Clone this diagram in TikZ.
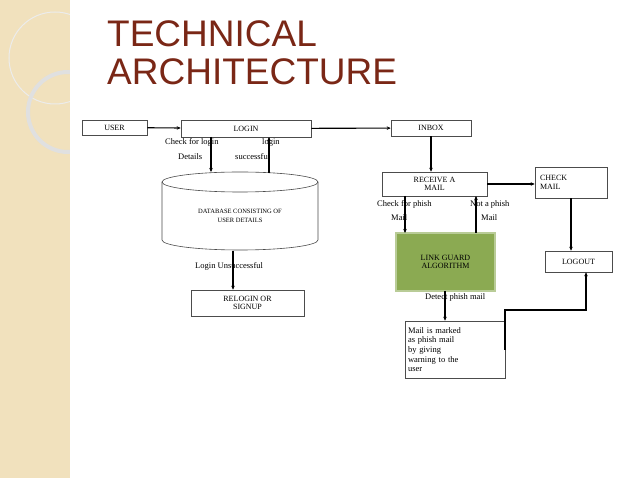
\documentclass[tikz,border=0pt]{standalone}
\usepackage{fontspec}
\setmainfont{Liberation Serif}
\newfontfamily\titlefont{Liberation Sans}
\usetikzlibrary{shapes.geometric,arrows.meta}
\definecolor{side}{HTML}{F1E1BD}
\definecolor{ttl}{HTML}{7A2716}
\definecolor{lg}{HTML}{8BAA52}
\begin{document}
\begin{tikzpicture}[x=1pt,y=-1pt,
  box/.style={draw=black!70,line width=0.6pt,inner sep=0pt,font=\fontsize{8}{8.5}\selectfont,align=center},
  arr/.style={-{Stealth[length=4pt,width=3.5pt]},line width=1.1pt},
  lbl/.style={font=\fontsize{8.5}{9}\selectfont,inner sep=0pt}]
\useasboundingbox (0,0) rectangle (638,478);
\fill[side] (0,0) rectangle (70,478);
\draw[white!85!gray,line width=1pt] (55,58) circle (46);
\draw[black!12,line width=4pt] (68,112) circle (40);
\fill[white] (70,0) rectangle (638,478);
\node[text=ttl,font=\titlefont\fontsize{37}{38}\selectfont,anchor=north west,align=left,inner sep=0pt] (title) at (107,20) {TECHNICAL\\ARCHITECTURE};

\node[box,minimum width=65,minimum height=15] (user) at (114.5,127.5) {USER};
\node[box,minimum width=130,minimum height=17] (login) at (246,128.5) {LOGIN};
\node[box,minimum width=80,minimum height=16] (inbox) at (431,128) {INBOX};
\node[inner sep=0pt,minimum width=156,minimum height=78,align=center,font=\fontsize{6.5}{9}\selectfont] (db) at (240,216) {DATABASE CONSISTING OF\\USER DETAILS};
\draw[black!70,line width=0.6pt] (240,182) ellipse (78 and 10);
\draw[black!70,line width=0.6pt] (162,182) -- (162,240) arc (180:0:78 and 10) -- (318,182);
\node[box,minimum width=113,minimum height=26] (relog) at (247.5,303) {RELOGIN OR\\SIGNUP};
\node[box,minimum width=105,minimum height=24] (recv) at (434.5,184) {RECEIVE A\\MAIL};
\node[box,minimum width=72,minimum height=31,align=left,text width=62] (check) at (571,182.5) {CHECK\\MAIL};
\node[box,minimum width=67,minimum height=21] (logout) at (578.5,261.5) {LOGOUT};
\node[box,fill=lg,draw=lg!60!white,line width=2pt,minimum width=99,minimum height=58] (lga) at (445.5,262) {LINK GUARD\\ALGORITHM};
\node[box,minimum width=100,minimum height=57,align=left,text width=94,font=\fontsize{8.5}{9.6}\selectfont] (mail) at (455,349.5) {Mail is marked\\as phish mail\\by giving\\warning to the\\user};

\draw[arr] (user) -- (login);
\draw[arr] (login) -- (inbox);
\draw[arr] (211,137) -- (211,172);
\draw[arr] (269,173) -- (269,137);
\draw[arr] (233,251) -- (relog.north -| 233,0);
\draw[arr] (inbox) -- (recv.north -| inbox);
\draw[arr] (recv.east |- 0,184) -- (check.west |- 0,184);
\draw[arr] (check.south -| 571,0) -- (logout.north -| 571,0);
\draw[arr] (405,196) -- (405,233);
\draw[arr] (476,233) -- (476,196);
\draw[arr] (445,291) -- (mail.north -| 445,0);
\draw[arr] (505,350) -- (505,310) -- (586,310) -- (logout.south -| 586,0);

\node[lbl,anchor=west] (l1) at (165,142) {Check for login};
\node[lbl,anchor=west] (l2) at (262,142) {login};
\node[lbl,anchor=west] (l3) at (178,157) {Details};
\node[lbl,anchor=west] (l4) at (235,157) {successful};
\node[lbl,anchor=west] (l5) at (195,266) {Login Unsuccessful};
\node[lbl,anchor=west] (l6) at (377,204) {Check for phish};
\node[lbl,anchor=west] (l7) at (470,204) {Not a phish};
\node[lbl,anchor=west] (l8) at (391,218) {Mail};
\node[lbl,anchor=west] (l9) at (481,218) {Mail};
\node[lbl,anchor=west] (l10) at (425,297) {Detect phish mail};
\end{tikzpicture}
\end{document}
